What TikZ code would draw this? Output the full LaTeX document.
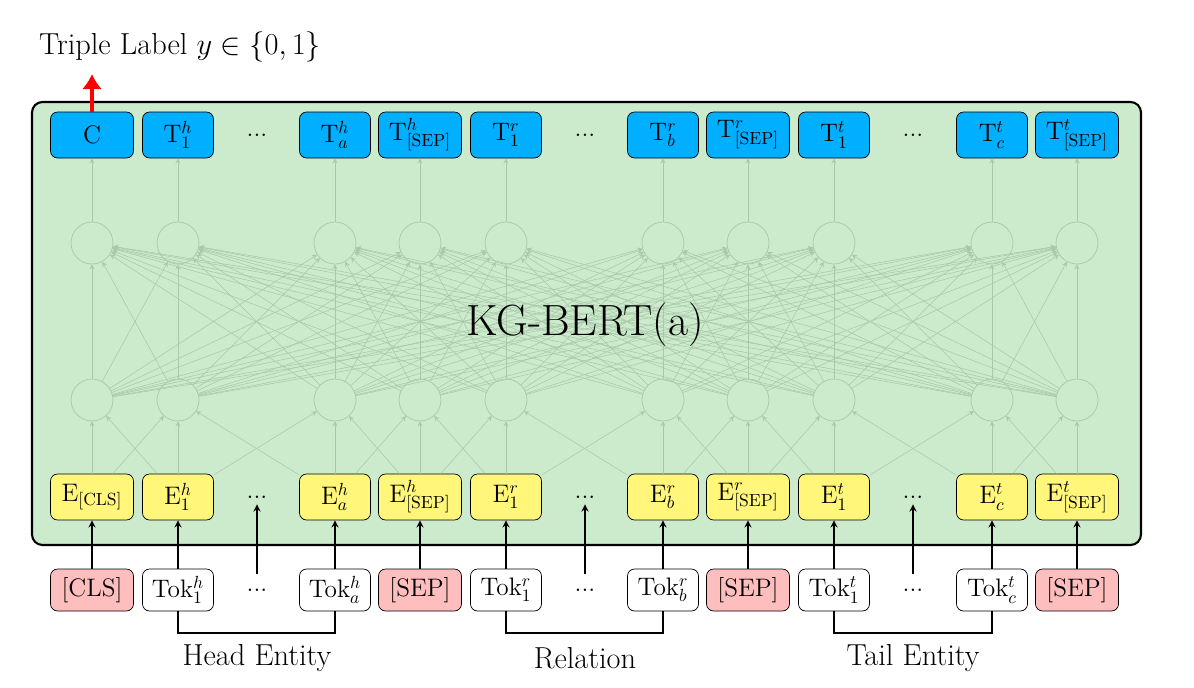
\documentclass[tikz,border=0pt]{standalone}
\usetikzlibrary{positioning,arrows.meta}
\definecolor{kgreen}{RGB}{204,234,204}
\definecolor{kblue}{RGB}{0,175,255}
\definecolor{kyellow}{RGB}{255,246,122}
\definecolor{kpink}{RGB}{255,190,190}
\definecolor{klink}{RGB}{168,200,168}
\begin{document}
\begin{tikzpicture}[
    x=0.02cm, y=-0.02cm,
    every node/.style={font=\Large},
    box/.style={rectangle, rounded corners=4pt, draw, minimum height=0.92cm, minimum width=1.42cm, inner sep=1pt},
    outbox/.style={box, fill=kblue},
    embbox/.style={box, fill=kyellow},
    tokbox/.style={box, minimum height=0.84cm, fill=white},
    spbox/.style={tokbox, fill=kpink},
    neuron/.style={circle, draw=klink, minimum size=0.84cm, inner sep=0pt},
    link/.style={draw=klink, line width=0.3pt, ->, >=stealth},
    feed/.style={draw, thick, ->, >=stealth},
    segment/.style={font=\LARGE}
]
\useasboundingbox (0,0) rectangle (1194,687);

% Model frame
\draw[very thick, rounded corners=6pt, fill=kgreen] (32,102) rectangle (1141,545);

% Output row
\node[outbox, minimum width=1.66cm] (o1) at (92,135) {C};
\node[outbox] (o2) at (178,135) {T$^h_1$};
\node (o3) at (257,135) {...};
\node[outbox] (o4) at (335,135) {T$^h_a$};
\node[outbox, minimum width=1.66cm] (o5) at (420,135) {T$^h_{\mathrm{[SEP]}}$};
\node[outbox] (o6) at (506,135) {T$^r_1$};
\node (o7) at (585,135) {...};
\node[outbox] (o8) at (663,135) {T$^r_b$};
\node[outbox, minimum width=1.66cm] (o9) at (748,135) {T$^r_{\mathrm{[SEP]}}$};
\node[outbox] (o10) at (834,135) {T$^t_1$};
\node (o11) at (913,135) {...};
\node[outbox] (o12) at (992,135) {T$^t_c$};
\node[outbox, minimum width=1.66cm] (o13) at (1077,135) {T$^t_{\mathrm{[SEP]}}$};

% Embedding row
\node[embbox, minimum width=1.66cm] (e1) at (92,497) {E$_{\mathrm{[CLS]}}$};
\node[embbox] (e2) at (178,497) {E$^h_1$};
\node (e3) at (257,497) {...};
\node[embbox] (e4) at (335,497) {E$^h_a$};
\node[embbox, minimum width=1.66cm] (e5) at (420,497) {E$^h_{\mathrm{[SEP]}}$};
\node[embbox] (e6) at (506,497) {E$^r_1$};
\node (e7) at (585,497) {...};
\node[embbox] (e8) at (663,497) {E$^r_b$};
\node[embbox, minimum width=1.66cm] (e9) at (748,497) {E$^r_{\mathrm{[SEP]}}$};
\node[embbox] (e10) at (834,497) {E$^t_1$};
\node (e11) at (913,497) {...};
\node[embbox] (e12) at (992,497) {E$^t_c$};
\node[embbox, minimum width=1.66cm] (e13) at (1077,497) {E$^t_{\mathrm{[SEP]}}$};

% Hidden layers
\foreach \i/\x in {1/92,2/178,3/335,4/420,5/506,6/663,7/748,8/834,9/992,10/1077} {
  \node[neuron] (u\i) at (\x,243) {};
  \node[neuron] (l\i) at (\x,400) {};
}

% Connections
\foreach \i/\e in {1/1,2/2,3/4,4/5,5/6,6/8,7/9,8/10,9/12,10/13} {
  \draw[link] (u\i) -- (o\e);
  \draw[link] (e\e) -- (l\i);
  \foreach \j in {1,...,10} { \draw[link] (l\i) -- (u\j); }
}
\foreach \i/\e in {1/2,2/4,3/5,4/6,5/8,6/9,7/10,8/12,9/13} {
  \draw[link] (e\e) -- (l\i);
}
\foreach \i/\e in {2/1,3/2,4/4,5/5,6/6,7/8,8/9,9/10,10/12} {
  \draw[link] (e\e) -- (l\i);
}

\node[font=\Huge] (model) at (585,325) {KG-BERT(a)};

% Input tokens
\node[spbox, minimum width=1.66cm] (t1) at (92,590) {[CLS]};
\node[tokbox] (t2) at (178,590) {Tok$^h_1$};
\node (t3) at (257,590) {...};
\node[tokbox] (t4) at (335,590) {Tok$^h_a$};
\node[spbox, minimum width=1.66cm] (t5) at (420,590) {[SEP]};
\node[tokbox] (t6) at (506,590) {Tok$^r_1$};
\node (t7) at (585,590) {...};
\node[tokbox] (t8) at (663,590) {Tok$^r_b$};
\node[spbox, minimum width=1.66cm] (t9) at (748,590) {[SEP]};
\node[tokbox] (t10) at (834,590) {Tok$^t_1$};
\node (t11) at (913,590) {...};
\node[tokbox] (t12) at (992,590) {Tok$^t_c$};
\node[spbox, minimum width=1.66cm] (t13) at (1077,590) {[SEP]};

\foreach \k in {1,2,4,5,6,8,9,10,12,13} { \draw[feed] (t\k) -- (e\k); }
\foreach \k/\x in {3/257,7/585,11/913} {
  \coordinate (s\k) at (\x,574);
  \draw[feed] (s\k) -- (e\k);
}

% Segment brackets
\draw[thick] (t2.south) |- (257,633) -| (t4.south);
\draw[thick] (t6.south) |- (585,633) -| (t8.south);
\draw[thick] (t10.south) |- (913,633) -| (t12.south);
\node[segment] (head) at (257,658) {Head Entity};
\node[segment] (rel) at (585,658) {Relation};
\node[segment] (tail) at (913,658) {Tail Entity};

% Output label
\node[segment] (label) at (180,47) {Triple Label $y\in\{0,1\}$};
\coordinate (tip) at (92,74);
\draw[red, line width=2.5pt, -{Latex[length=3mm,width=4mm]}] (o1.north) -- (tip);
\end{tikzpicture}
\end{document}
